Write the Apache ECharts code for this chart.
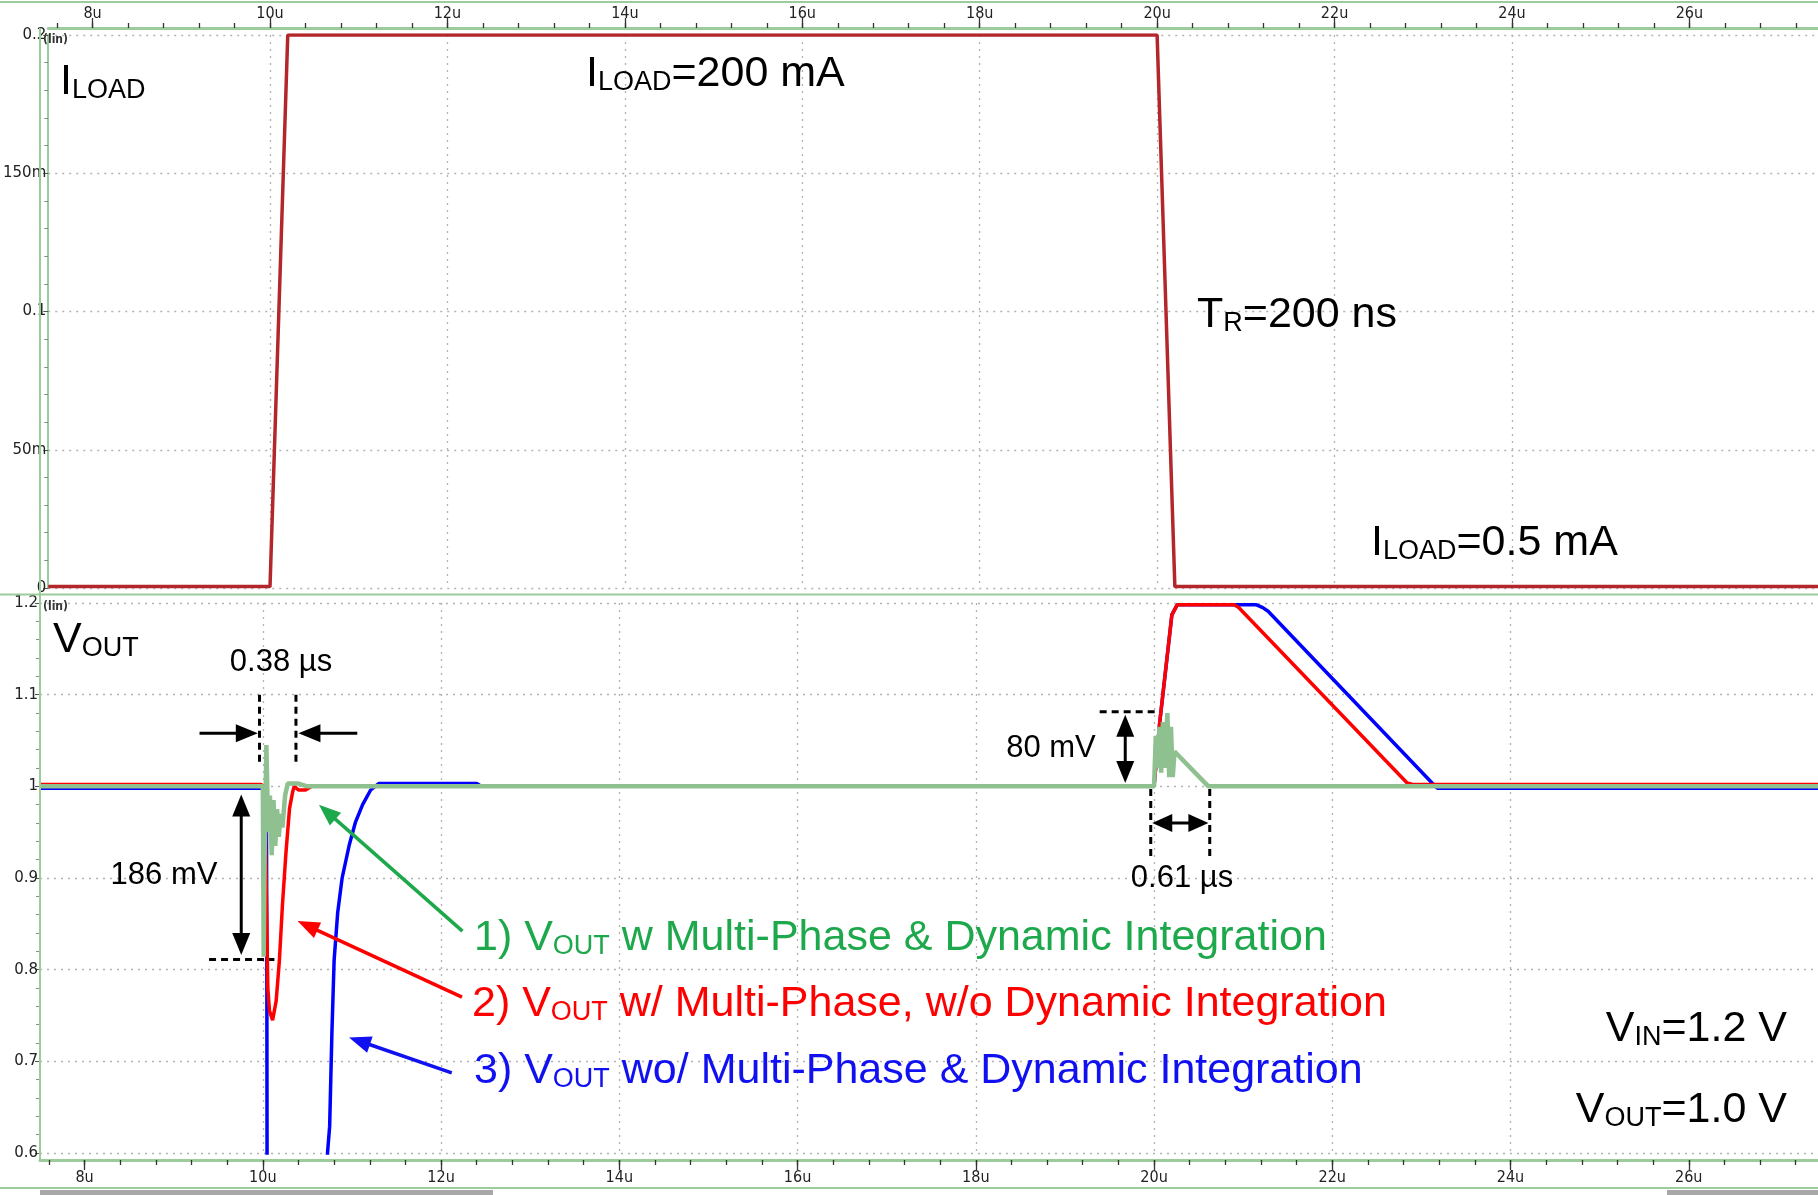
<!DOCTYPE html>
<html><head><meta charset="utf-8">
<script src="https://cdn.jsdelivr.net/npm/echarts@6/dist/echarts.min.js"></script>
<style>html,body{margin:0;padding:0;background:#fff;overflow:hidden}#c{width:1818px;height:1195px}</style>
</head><body><div id="c"></div>
<script>
// ---------- data ----------
const xMajorTicks = [8, 10, 12, 14, 16, 18, 20, 22, 24, 26];
const xTickLabels = ['8u', '10u', '12u', '14u', '16u', '18u', '20u', '22u', '24u', '26u'];
const topYTicks = [0, 0.05, 0.1, 0.15, 0.2];
const topYLabels = ['0', '50m', '0.1', '150m', '0.2'];
const botYTicks = [0.6, 0.7, 0.8, 0.9, 1.0, 1.1, 1.2];
const botYLabels = ['0.6', '0.7', '0.8', '0.9', '1', '1.1', '1.2'];

// I_LOAD (A) vs time (us)
const iloadT = [7.5, 10.0, 10.2, 20.0, 20.2, 27.45];
const iloadA = [0.0005, 0.0005, 0.2, 0.2, 0.0005, 0.0005];

// 1) VOUT w Multi-Phase & Dynamic Integration (green)
const greenT = [7.5, 10.0, 10.01, 10.02, 10.04, 10.06, 10.08, 10.10, 10.12, 10.14, 10.16, 10.18, 10.20, 10.22, 10.25, 10.28, 10.40, 10.50,
                20.0, 20.02, 20.04, 20.06, 20.08, 20.10, 20.12, 20.15, 20.17, 20.19, 20.21, 20.23, 20.61, 27.45];
const greenV = [1.0, 1.0, 0.814, 0.92, 1.045, 0.95, 0.99, 0.925, 0.985, 0.935, 0.975, 0.945, 0.97, 0.955, 0.99, 1.003, 1.003, 1.0,
                1.0, 1.055, 1.02, 1.065, 1.015, 1.07, 1.02, 1.08, 1.01, 1.065, 1.01, 1.038, 1.0, 1.0];

// 2) VOUT w/ Multi-Phase, w/o Dynamic Integration (red)
const redT = [7.5, 9.98, 10.02, 10.045, 10.056, 10.075, 10.11, 10.15, 10.186, 10.22, 10.26, 10.30, 10.335, 10.354, 10.40, 10.48, 10.55,
              20.0, 20.063, 20.20, 20.26, 20.90, 20.95, 20.99, 22.84, 22.9, 27.45];
const redV = [1.002, 1.002, 1.0, 0.853, 0.78, 0.755, 0.745, 0.766, 0.81, 0.87, 0.928, 0.976, 0.994, 1.0, 0.996, 0.996, 1.0,
              1.0, 1.069, 1.187, 1.198, 1.198, 1.195, 1.191, 1.0036, 1.002, 1.002];

// 3) VOUT wo/ Multi-Phase & Dynamic Integration (blue)
const blueT = [7.5, 10.0, 10.04, 10.045, 10.05, 10.70, 10.726, 10.75, 10.775, 10.80, 10.84, 10.89, 10.97, 11.04, 11.12, 11.21, 11.30, 12.40, 12.45,
               20.0, 20.063, 20.20, 20.26, 21.15, 21.22, 21.28, 23.12, 23.18, 27.45];
const blueV = [0.998, 0.998, 1.0, 0.82, 0.40, 0.40, 0.60, 0.629, 0.73, 0.81, 0.862, 0.90, 0.936, 0.961, 0.98, 0.996, 1.003, 1.003, 1.0,
               1.0, 1.069, 1.187, 1.198, 1.198, 1.195, 1.191, 1.0036, 0.998, 0.998];

// ---------- styling ----------
const X_MIN = 7.5, X_MAX = 27.45;
const AXIS_GREEN = '#9ccc9c';
const GRID_GRAY = '#b2b2b2';
const LBL = "'Liberation Sans', Arial, Helvetica, sans-serif";
const AXF = "'DejaVu Sans Condensed', 'Liberation Sans Narrow', 'DejaVu Sans', sans-serif";
const xMinorTicks = [];
for (let i = 0; i < 50; i++) { const v = +(7.6 + i * 0.4).toFixed(1); if (v < X_MAX) xMinorTicks.push(v); }

const zip = (a, b) => a.map((v, i) => [v, b[i]]);
const lab = (ticks, labels) => v => { const i = ticks.findIndex(t => Math.abs(t - v) < 1e-6); return i >= 0 ? labels[i] : ''; };

function xAx(gridIndex, position, major) {
  return {
    type: 'value', gridIndex, position, min: X_MIN, max: X_MAX, offset: 7, splitNumber: 10,
    axisLine: { show: major, onZero: false, lineStyle: { color: AXIS_GREEN, width: 3 } },
    axisTick: { show: true, inside: false, length: major ? 10 : 5, customValues: major ? xMajorTicks : xMinorTicks,
                lineStyle: { color: '#333', width: 1.3 } },
    axisLabel: { show: major, customValues: xMajorTicks, formatter: lab(xMajorTicks, xTickLabels),
                 margin: position === 'top' ? 6 : 10, fontFamily: AXF, fontSize: 16, color: '#222' },
    splitLine: { show: major, showMinLine: false, showMaxLine: false, lineStyle: { color: GRID_GRAY, type: [2, 5], width: 1.3 } }
  };
}
function yAx(gridIndex, min, max, interval, ticks, labels) {
  return {
    type: 'value', gridIndex, min, max, interval,
    axisLine: { show: true, onZero: false, lineStyle: { color: AXIS_GREEN, width: 2 } },
    axisTick: { show: true, length: 5, lineStyle: { color: '#555' } },
    minorTick: { show: true, splitNumber: 5, length: 4, lineStyle: { color: '#8a8a8a' } },
    axisLabel: { formatter: lab(ticks, labels), margin: 2, fontFamily: "'DejaVu Sans', sans-serif", fontSize: 15, color: '#222' },
    splitLine: { show: true, lineStyle: { color: GRID_GRAY, type: [2, 5], width: 1.3 } }
  };
}

const chart = echarts.init(document.getElementById('c'), null, { renderer: 'canvas' });
const option = {
  animation: false,
  backgroundColor: '#ffffff',
  grid: [
    { left: 40, right: 0, top: 35, height: 553 },
    { left: 40, right: 0, top: 603, height: 550 }
  ],
  xAxis: [xAx(0, 'top', true), xAx(0, 'top', false), xAx(1, 'bottom', true), xAx(1, 'bottom', false)],
  yAxis: [yAx(0, 0, 0.2, 0.05, topYTicks, topYLabels), yAx(1, 0.6, 1.2, 0.1, botYTicks, botYLabels)],
  series: [
    { name: 'ILOAD', type: 'line', xAxisIndex: 0, yAxisIndex: 0, data: zip(iloadT, iloadA), showSymbol: false,
      lineStyle: { color: '#b3262b', width: 3.5 }, z: 5 },
    { name: 'VOUT3', type: 'line', xAxisIndex: 2, yAxisIndex: 1, data: zip(blueT, blueV), showSymbol: false,
      lineStyle: { color: '#0000ff', width: 3.5 }, z: 5 },
    { name: 'VOUT2', type: 'line', xAxisIndex: 2, yAxisIndex: 1, data: zip(redT, redV), showSymbol: false,
      lineStyle: { color: '#ff0000', width: 3.5 }, z: 6 },
    { name: 'VOUT1', type: 'line', xAxisIndex: 2, yAxisIndex: 1, data: zip(greenT, greenV), showSymbol: false,
      lineStyle: { color: '#8fc08f', width: 4.5 }, z: 7 }
  ]
};
chart.setOption(option);

// ---------- annotations ----------
const P = (x, y) => chart.convertToPixel({ gridIndex: 1 }, [x, y]);

function richLabel(x, y, parts, color, align) {
  return { type: 'text', x, y, z: 50, silent: true, style: {
    text: parts.map(p => '{' + p[0] + '|' + p[1] + '}').join(''),
    fill: color, align: align || 'left', verticalAlign: 'middle',
    rich: {
      m: { fontSize: 43, fontFamily: LBL, lineHeight: 48, verticalAlign: 'bottom', fill: color },
      s: { fontSize: 27, fontFamily: LBL, lineHeight: 30, verticalAlign: 'bottom', fill: color }
    } } };
}
function plain(x, y, text, size) {
  return { type: 'text', x, y, z: 50, silent: true, style: { text, fill: '#000', fontSize: size, fontFamily: LBL, align: 'center', verticalAlign: 'middle' } };
}
function head(tip, from, len, w, color) {
  const dx = tip[0] - from[0], dy = tip[1] - from[1]; const L = Math.hypot(dx, dy) || 1;
  const ux = dx / L, uy = dy / L; const bx = tip[0] - ux * len, by = tip[1] - uy * len;
  return { type: 'polygon', z: 60, silent: true, shape: { points: [tip, [bx - uy * w / 2, by + ux * w / 2], [bx + uy * w / 2, by - ux * w / 2]] }, style: { fill: color } };
}
function arrow(a, b, color, lw, len, w, both) {
  const dx = b[0] - a[0], dy = b[1] - a[1]; const L = Math.hypot(dx, dy) || 1; const ux = dx / L, uy = dy / L;
  const s = both ? a.map((v, i) => v + [ux, uy][i] * len * 0.7) : a;
  const e = b.map((v, i) => v - [ux, uy][i] * len * 0.7);
  const out = [{ type: 'line', z: 59, silent: true, shape: { x1: s[0], y1: s[1], x2: e[0], y2: e[1] }, style: { stroke: color, lineWidth: lw } }, head(b, a, len, w, color)];
  if (both) out.push(head(a, b, len, w, color));
  return out;
}
function dash(a, b) {
  return { type: 'line', z: 58, silent: true, shape: { x1: a[0], y1: a[1], x2: b[0], y2: b[1] }, style: { stroke: '#000', lineWidth: 3, lineDash: [7, 5] } };
}
function hline(y, x1, x2, color, w) { return { type: 'line', z: 40, silent: true, shape: { x1, y1: y, x2, y2: y }, style: { stroke: color, lineWidth: w } }; }
function vline(x, y1, y2, color, w) { return { type: 'line', z: 40, silent: true, shape: { x1: x, y1, x2: x, y2 }, style: { stroke: color, lineWidth: w } }; }

const G = [];
// frame
G.push(hline(2, 0, 1818, AXIS_GREEN, 2));
G.push(hline(594.5, 0, 1818, AXIS_GREEN, 2));
G.push(vline(40, 28, 1160, AXIS_GREEN, 2));
G.push(hline(1188, 0, 1818, AXIS_GREEN, 2));
G.push({ type: 'rect', z: 40, silent: true, shape: { x: 40, y: 1190, width: 453, height: 5 }, style: { fill: '#a8a8a8' } });
G.push({ type: 'rect', z: 40, silent: true, shape: { x: 1667, y: 1190, width: 151, height: 5 }, style: { fill: '#a8a8a8' } });
// (lin)
G.push({ type: 'text', x: 43, y: 40, z: 50, silent: true, style: { text: '(lin)', fill: '#333', fontSize: 12, fontWeight: 'bold', fontFamily: AXF, verticalAlign: 'middle' } });
G.push({ type: 'text', x: 43, y: 607, z: 50, silent: true, style: { text: '(lin)', fill: '#333', fontSize: 12, fontWeight: 'bold', fontFamily: AXF, verticalAlign: 'middle' } });

// big labels
G.push(richLabel(60, 80, [['m', 'I'], ['s', 'LOAD']], '#000'));
G.push(richLabel(586, 72, [['m', 'I'], ['s', 'LOAD'], ['m', '=200 mA']], '#000'));
G.push(richLabel(1197, 313, [['m', 'T'], ['s', 'R'], ['m', '=200 ns']], '#000'));
G.push(richLabel(1371, 541, [['m', 'I'], ['s', 'LOAD'], ['m', '=0.5 mA']], '#000'));
G.push(richLabel(53, 638, [['m', 'V'], ['s', 'OUT']], '#000'));
G.push(richLabel(1787, 1027, [['m', 'V'], ['s', 'IN'], ['m', '=1.2 V']], '#000', 'right'));
G.push(richLabel(1787, 1108, [['m', 'V'], ['s', 'OUT'], ['m', '=1.0 V']], '#000', 'right'));
G.push(richLabel(474, 936, [['m', '1) V'], ['s', 'OUT'], ['m', ' w Multi-Phase & Dynamic Integration']], '#1ea84c'));
G.push(richLabel(472, 1002, [['m', '2) V'], ['s', 'OUT'], ['m', ' w/ Multi-Phase, w/o Dynamic Integration']], '#ff0000'));
G.push(richLabel(474, 1069, [['m', '3) V'], ['s', 'OUT'], ['m', ' wo/ Multi-Phase & Dynamic Integration']], '#1010f0'));

// small labels
G.push(plain(281, 662, '0.38 \u00b5s', 31));
G.push(plain(164, 875, '186 mV', 31));
G.push(plain(1051, 748, '80 mV', 31));
G.push(plain(1182, 878, '0.61 \u00b5s', 31));

// 0.38 us markers
G.push(dash(P(9.963, 1.10), P(9.963, 1.025)));
G.push(dash(P(10.372, 1.10), P(10.372, 1.025)));
G.push(...arrow(P(9.29, 1.058), P(9.944, 1.058), '#000', 3, 22, 18));
G.push(...arrow(P(11.06, 1.058), P(10.40, 1.058), '#000', 3, 22, 18));
// 186 mV markers
G.push(dash(P(9.397, 0.811), P(10.13, 0.811)));
G.push(...arrow(P(9.758, 0.816), P(9.758, 0.991), '#000', 3, 22, 18, true));
// 80 mV markers
G.push(dash(P(19.39, 1.0815), P(20.056, 1.0815)));
G.push(...arrow(P(19.677, 1.0036), P(19.677, 1.078), '#000', 3, 22, 18, true));
// 0.61 us markers
G.push(dash(P(19.963, 0.997), P(19.963, 0.92)));
G.push(dash(P(20.625, 0.997), P(20.625, 0.92)));
G.push(...arrow(P(19.98, 0.96), P(20.61, 0.96), '#000', 3, 20, 18, true));
// coloured pointers
G.push(...arrow(P(12.24, 0.842), P(10.63, 0.98), '#1ea84c', 3.5, 22, 17));
G.push(...arrow(P(12.235, 0.770), P(10.39, 0.853), '#ff0000', 3.5, 22, 17));
G.push(...arrow(P(12.12, 0.6875), P(10.968, 0.726), '#1010f0', 3.5, 22, 17));

chart.setOption({ graphic: { elements: G } });
</script>
</body></html>
